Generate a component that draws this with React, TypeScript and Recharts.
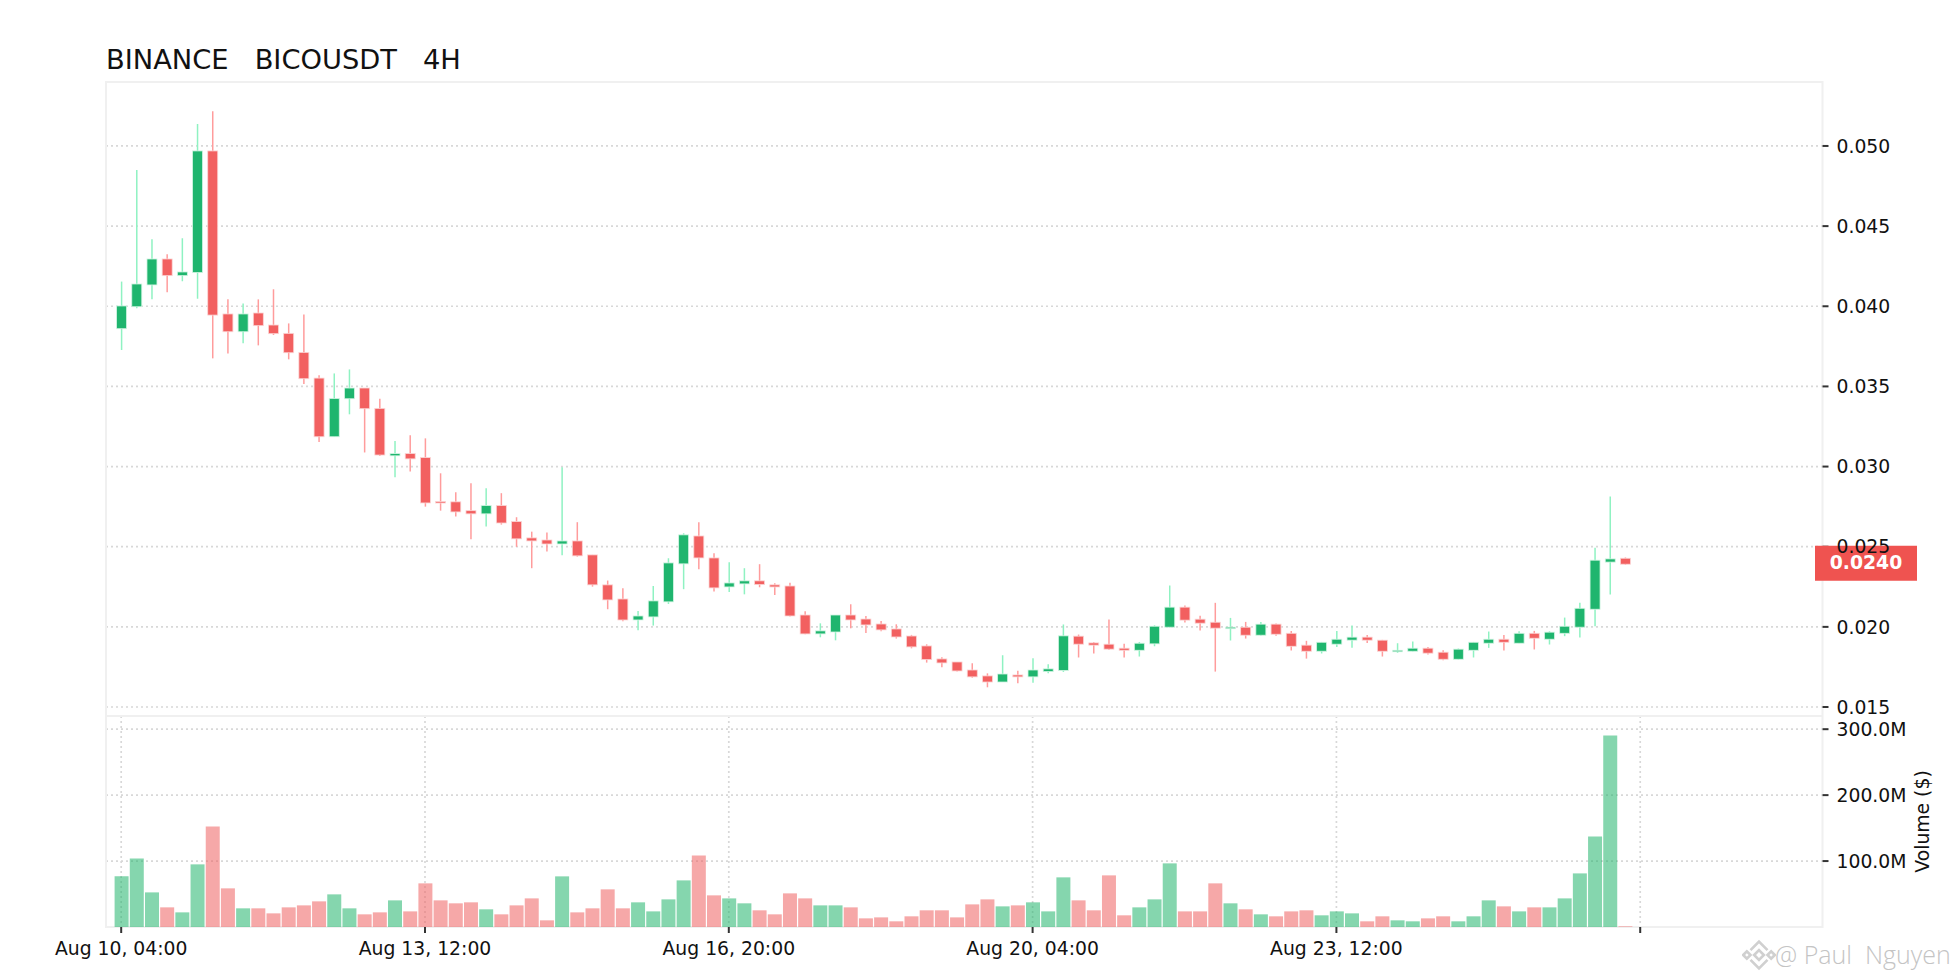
import React from 'react';
import { ComposedChart, Bar, Cell, XAxis, YAxis, CartesianGrid, ReferenceArea, ReferenceDot } from 'recharts';

// 4H candles, index 0 = Aug 10 04:00
const opens = [
  0.0386, 0.03997, 0.04133, 0.04295, 0.04191, 0.0421, 0.04969, 0.03952, 0.03841, 0.03958,
  0.03883, 0.03831, 0.03712, 0.03552, 0.03186, 0.03423, 0.0349, 0.03363, 0.03067, 0.03081,
  0.03056, 0.02782, 0.0278, 0.02725, 0.02705, 0.02757, 0.02657, 0.02555, 0.02542, 0.02517,
  0.02536, 0.02449, 0.02262, 0.02174, 0.02043, 0.02062, 0.02156, 0.02393, 0.02567, 0.0243,
  0.02249, 0.02268, 0.02287, 0.02262, 0.02255, 0.02074, 0.01956, 0.01968, 0.02074, 0.02049,
  0.02018, 0.01987, 0.01943, 0.01881, 0.018, 0.01781, 0.01731, 0.01694, 0.01656, 0.017,
  0.01688, 0.01721, 0.01728, 0.01942, 0.019, 0.01892, 0.01867, 0.01854, 0.01894, 0.01998,
  0.02123, 0.02048, 0.02029, 0.01992, 0.01998, 0.01948, 0.02017, 0.0196, 0.01886, 0.01848,
  0.01892, 0.01917, 0.01936, 0.01917, 0.01848, 0.01848, 0.01867, 0.01842, 0.01798, 0.01854,
  0.01898, 0.01923, 0.01898, 0.0196, 0.01923, 0.0196, 0.01998, 0.0211, 0.02404, 0.02428,
];
const closes = [
  0.04002, 0.04139, 0.04295, 0.04191, 0.04214, 0.04969, 0.03945, 0.03841, 0.03952, 0.03879,
  0.03829, 0.0371, 0.03548, 0.03186, 0.03425, 0.0349, 0.03361, 0.03072, 0.03081, 0.03048,
  0.02773, 0.02773, 0.02717, 0.02705, 0.02757, 0.02648, 0.02549, 0.02536, 0.02517, 0.02536,
  0.02443, 0.02262, 0.02168, 0.02043, 0.02068, 0.02162, 0.02399, 0.02574, 0.0243, 0.02243,
  0.02274, 0.02287, 0.02264, 0.02249, 0.02068, 0.01956, 0.01975, 0.02074, 0.02043, 0.02012,
  0.01981, 0.01937, 0.01875, 0.01796, 0.01775, 0.01725, 0.01688, 0.01656, 0.01706, 0.01688,
  0.01731, 0.01738, 0.01944, 0.01892, 0.01886, 0.01861, 0.01854, 0.01898, 0.02004, 0.02123,
  0.02042, 0.02023, 0.01992, 0.01998, 0.01948, 0.02017, 0.01954, 0.01879, 0.01848, 0.01904,
  0.01923, 0.01936, 0.01917, 0.01848, 0.01854, 0.01867, 0.01836, 0.01798, 0.01861, 0.01904,
  0.01923, 0.01904, 0.0196, 0.01929, 0.01967, 0.02004, 0.02116, 0.02416, 0.02424, 0.02391,
];
const highs = [
  0.04154, 0.0485, 0.04418, 0.04324, 0.04424, 0.05137, 0.05216, 0.04043, 0.04018, 0.04043,
  0.04106, 0.03893, 0.03948, 0.03569, 0.03581, 0.03606, 0.0349, 0.03423, 0.0316, 0.03195,
  0.03176, 0.02958, 0.0284, 0.02896, 0.02865, 0.02834, 0.02684, 0.02594, 0.02588, 0.02996,
  0.02653, 0.02449, 0.02289, 0.02241, 0.02099, 0.02255, 0.02428, 0.02584, 0.02653, 0.02459,
  0.02403, 0.02366, 0.02391, 0.02272, 0.02276, 0.02097, 0.02022, 0.02074, 0.02141, 0.02068,
  0.02037, 0.02016, 0.0195, 0.01891, 0.0181, 0.01781, 0.01773, 0.0171, 0.01823, 0.01727,
  0.01804, 0.01767, 0.02015, 0.01952, 0.01906, 0.02046, 0.01894, 0.01906, 0.0201, 0.02258,
  0.02133, 0.02069, 0.0215, 0.02056, 0.02031, 0.02031, 0.02021, 0.01975, 0.01913, 0.01906,
  0.01975, 0.02008, 0.0195, 0.01919, 0.01898, 0.01908, 0.01875, 0.01854, 0.01865, 0.01906,
  0.01971, 0.0195, 0.01973, 0.01975, 0.01973, 0.02058, 0.0215, 0.02493, 0.02813, 0.02433,
];
const lows = [
  0.03727, 0.03987, 0.04043, 0.04087, 0.04156, 0.04047, 0.03675, 0.03706, 0.03769, 0.03756,
  0.03821, 0.03669, 0.03515, 0.03153, 0.03186, 0.03326, 0.03088, 0.03066, 0.02933, 0.02969,
  0.0275, 0.02725, 0.02688, 0.02547, 0.02626, 0.02638, 0.02499, 0.02366, 0.0247, 0.02447,
  0.02438, 0.02251, 0.0211, 0.02035, 0.01979, 0.02008, 0.02143, 0.02235, 0.02359, 0.0222,
  0.02218, 0.02203, 0.02247, 0.02199, 0.02064, 0.01954, 0.01935, 0.01916, 0.01991, 0.01962,
  0.01972, 0.01927, 0.01866, 0.01777, 0.01748, 0.01722, 0.01683, 0.01623, 0.01656, 0.01648,
  0.01652, 0.0171, 0.01719, 0.01809, 0.01834, 0.01856, 0.01809, 0.01815, 0.01879, 0.01996,
  0.02027, 0.01977, 0.01721, 0.01915, 0.01927, 0.01944, 0.01944, 0.01852, 0.01802, 0.01834,
  0.01875, 0.01869, 0.019, 0.01815, 0.01838, 0.01846, 0.01827, 0.01792, 0.01796, 0.01809,
  0.01869, 0.01852, 0.01898, 0.01859, 0.0189, 0.01942, 0.01933, 0.02004, 0.02202, 0.02387,
];
// volume in millions of dollars
const volumes = [
  76.8, 104, 52.5, 29.8, 22.2, 95, 152.5, 58.6, 28.3, 28.3,
  20.7, 29.8, 32.8, 38.9, 49.5, 28.3, 19.2, 22.2, 40.4, 23.7,
  66.2, 40.4, 35.9, 37.4, 26.8, 19.2, 32.8, 43.4, 10.1, 76.8,
  22.2, 28.3, 57.1, 28.3, 37.4, 23.7, 41.9, 70.7, 108.6, 48,
  43.4, 35.9, 25.3, 19.2, 51, 43.4, 32.8, 32.8, 29.8, 13.1,
  14.6, 8.6, 16.2, 25.3, 25.3, 14.6, 34.3, 41.9, 31.3, 32.8,
  37.4, 23.7, 75.3, 40.4, 25.3, 78.3, 17.7, 29.8, 41.9, 96.5,
  23.7, 23.7, 66.2, 35.9, 26.8, 19.2, 16.2, 23.7, 25.3, 17.7,
  23.7, 20.7, 8.6, 16.2, 10.1, 8.6, 13.1, 16.2, 8.6, 16.2,
  40.4, 31.3, 23.7, 29.8, 29.8, 43.4, 81.3, 137.4, 290.4, 1,
];

const xTicks = [0, 20, 40, 60, 80, 100];
const xLabels = ['Aug 10, 04:00', 'Aug 13, 12:00', 'Aug 16, 20:00', 'Aug 20, 04:00', 'Aug 23, 12:00', ''];
const priceTicks = [0.015, 0.02, 0.025, 0.03, 0.035, 0.04, 0.045, 0.05];
const volumeTicks = [100, 200, 300];
const lastPrice = 0.024;

const xDomain: [number, number] = [-1, 112];
const priceDomain: [number, number] = [0.01444, 0.05399];
const volumeDomain: [number, number] = [0, 320];

const UP = '#21b46c';
const DOWN = '#ef6161';
const font = '"DejaVu Sans"';
const tickStyle = { fontFamily: font, fontSize: 18.8, fill: '#111' };
const tickLine = { stroke: '#333', strokeWidth: 2 };
const spine = '#f0f0f0';
const gridColor = '#d8d8d8';
const gridDash = '2 3';

const candles = opens.map((open, i) => ({
  i,
  open,
  close: closes[i],
  high: highs[i],
  low: lows[i],
  range: [lows[i], highs[i]],
}));
const volumeRows = volumes.map((volume, i) => ({ i, volume }));

// the bar spans low..high, body position is worked out from that span
const Candle = (props: any) => {
  const { x, y, width, height, payload } = props;
  const { open, close, high, low } = payload;
  const up = close >= open;
  const perUnit = height / (high - low);
  const bodyTop = y + (high - Math.max(open, close)) * perUnit;
  const bodyH = Math.max(Math.abs(close - open) * perUnit, 1.5);
  const cx = x + width / 2;
  return (
    <g>
      <line x1={cx} x2={cx} y1={y} y2={y + height} stroke={up ? '#8ff2c2' : '#ff9c9c'} strokeWidth={1.5} />
      <rect x={x} y={bodyTop} width={width} height={bodyH} fill={up ? '#1fb56e' : '#f26060'} stroke={up ? '#d4f5e4' : '#fbd5d5'} strokeWidth={0.8} />
    </g>
  );
};

const PriceTag = (props: any) => {
  const { cx, cy } = props;
  return (
    <g>
      <rect x={cx - 7.5} y={cy - 17} width={102} height={35} fill="#ef5350" />
      <text x={cx + 43.5} y={cy + 6} textAnchor="middle" fontFamily={font} fontSize={18.8} fontWeight="bold" fill="#fff">
        {lastPrice.toFixed(4)}
      </text>
    </g>
  );
};

const Watermark = () => (
  <div style={{ position: 'absolute', left: 1742, top: 936, width: 218, height: 38 }}>
    <svg width={34} height={34} viewBox="2 3 28 28" style={{ position: 'absolute', left: 0, top: 2 }} fill="none" stroke="#d0d0d0" strokeWidth={2.2}>
      <path d="M9 13 L16 6 L23 13" />
      <path d="M9 21 L16 28 L23 21" />
      <path d="M16 13 L20 17 L16 21 L12 17 Z" />
      <path d="M3 17 L6 14 L9 17 L6 20 Z" />
      <path d="M23 17 L26 14 L29 17 L26 20 Z" />
    </svg>
    <div style={{ position: 'absolute', left: 33, top: 1, fontFamily: '"Open Sans"', fontSize: 25, fontWeight: 300, color: '#c4c4c4', whiteSpace: 'pre', lineHeight: '34px' }}>
      {'@ Paul  Nguyen'}
    </div>
  </div>
);

export default function App() {
  return (
    <div style={{ position: 'absolute', left: 0, top: 0, width: 1960, height: 980, background: '#fff', overflow: 'hidden' }}>
      <div style={{ position: 'absolute', left: 106, top: 44, fontFamily: font, fontSize: 27.3, color: '#111', whiteSpace: 'pre', lineHeight: '32px' }}>
        {'BINANCE   BICOUSDT   4H'}
      </div>

      {/* price panel */}
      <div style={{ position: 'absolute', left: 0, top: 0 }}>
        <ComposedChart width={1960} height={716} data={candles} margin={{ top: 82, right: 0, bottom: 0, left: 106 }} style={{ overflow: 'visible' }}>
          <CartesianGrid stroke={gridColor} strokeWidth={1.7} strokeDasharray={gridDash} verticalValues={xTicks} horizontalValues={priceTicks} />
          <XAxis dataKey="i" type="number" domain={xDomain} ticks={xTicks} height={0} tick={false} tickLine={false} axisLine={false} allowDataOverflow />
          <YAxis
            orientation="right"
            width={137.5}
            domain={priceDomain}
            ticks={priceTicks}
            interval={0}
            tickFormatter={(v: number) => v.toFixed(3)}
            tick={tickStyle}
            tickSize={6}
            tickMargin={8}
            tickLine={tickLine}
            axisLine={false}
            allowDataOverflow
          />
          <ReferenceArea x1={xDomain[0]} x2={xDomain[1]} y1={priceDomain[0]} y2={priceDomain[1]} fill="none" stroke={spine} strokeWidth={2} ifOverflow="visible" />
          <Bar dataKey="range" barSize={10} shape={Candle} isAnimationActive={false} />
          <ReferenceDot x={xDomain[1]} y={lastPrice} r={0} shape={PriceTag} ifOverflow="visible" />
        </ComposedChart>
      </div>

      {/* volume panel */}
      <div style={{ position: 'absolute', left: 0, top: 716 }}>
        <ComposedChart width={1960} height={264} data={volumeRows} margin={{ top: 0, right: 0, bottom: 0, left: 106 }} style={{ overflow: 'visible' }}>
          <CartesianGrid stroke={gridColor} strokeWidth={1.7} strokeDasharray={gridDash} verticalValues={xTicks} horizontalValues={volumeTicks} />
          <XAxis
            dataKey="i"
            type="number"
            domain={xDomain}
            ticks={xTicks}
            interval={0}
            height={53}
            tickFormatter={(v: number) => xLabels[xTicks.indexOf(v)]}
            tick={tickStyle}
            tickSize={6}
            tickMargin={9}
            tickLine={tickLine}
            axisLine={false}
            allowDataOverflow
          />
          <YAxis
            orientation="right"
            width={137.5}
            domain={volumeDomain}
            ticks={volumeTicks}
            interval={0}
            tickFormatter={(v: number) => `${v}.0M`}
            tick={tickStyle}
            tickSize={6}
            tickMargin={8}
            tickLine={tickLine}
            axisLine={false}
            allowDataOverflow
            label={{ value: 'Volume ($)', angle: -90, position: 'insideRight', dx: -33, dy: 0, style: { fontFamily: font, fontSize: 18.8, fill: '#111', textAnchor: 'middle' } }}
          />
          <ReferenceArea x1={xDomain[0]} x2={xDomain[1]} y1={volumeDomain[0]} y2={volumeDomain[1]} fill="none" stroke={spine} strokeWidth={2} ifOverflow="visible" />
          <Bar dataKey="volume" barSize={14} fillOpacity={0.55} isAnimationActive={false}>
            {volumeRows.map((row) => (
              <Cell key={row.i} fill={closes[row.i] >= opens[row.i] ? UP : DOWN} />
            ))}
          </Bar>
        </ComposedChart>
      </div>

      <Watermark />
    </div>
  );
}
